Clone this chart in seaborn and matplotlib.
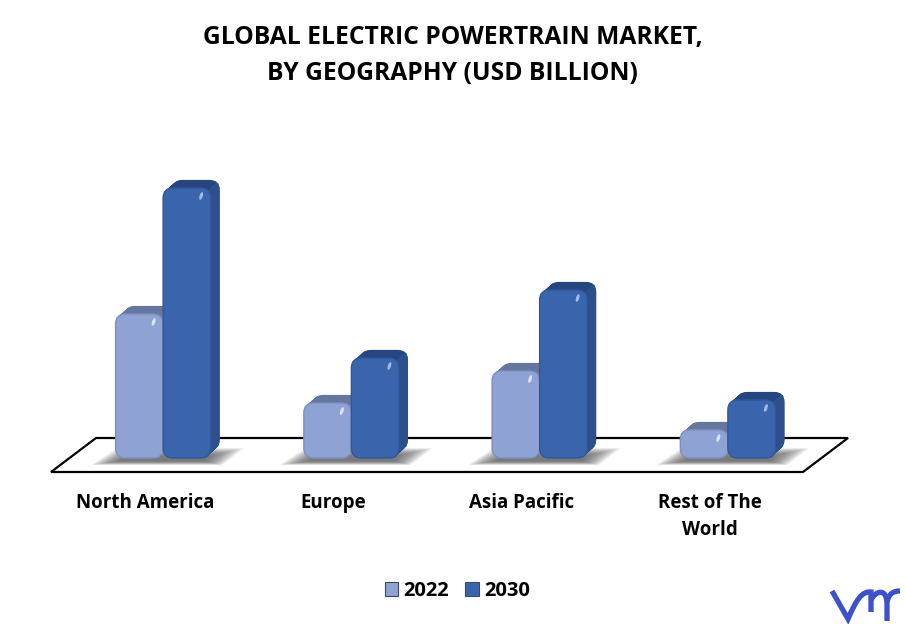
import matplotlib
matplotlib.use('Agg')
import matplotlib.pyplot as plt
import seaborn as sns
import pandas as pd
from matplotlib.patches import FancyBboxPatch, Polygon, Ellipse, PathPatch
from matplotlib.path import Path
from matplotlib.transforms import IdentityTransform, Affine2D

# Chart values (no axis in the reference, so relative scale)
regions = ['North America', 'Europe', 'Asia Pacific', 'Rest of The\nWorld']
years = ['2022', '2030']
values_2022 = [14.4, 5.5, 8.7, 2.8]
values_2030 = [27.0, 10.0, 16.8, 5.8]

W, H = 905, 624
colors = {'2022': '#8FA2D4', '2030': '#3A65AD'}
sides = {'2022': '#6F80AE', '2030': '#2D4F8C'}
tops = {'2022': '#67769F', '2030': '#26467F'}
rims = {'2022': '#7E90C0', '2030': '#31589C'}
glints = {'2022': '#E4EAF8', '2030': '#A9C4F0'}

df = pd.DataFrame({
    'region': regions * 2,
    'year': [years[0]] * 4 + [years[1]] * 4,
    'value': values_2022 + values_2030,
})

sns.set_theme(style='white')
plt.rcParams['font.family'] = ['Open Sans', 'DejaVu Sans']

fig = plt.figure(figsize=(W / 100, H / 100), dpi=100)
# axes runs from the floor front line up, categories are 188px apart
ax = fig.add_axes([69 / W, (H - 458) / H, 753 / W, 300 / H])
ax.patch.set_visible(False)

sns.barplot(data=df, x='region', y='value', hue='year', palette=colors,
            saturation=1, width=0.505, gap=0, ax=ax, zorder=10)
ax.set_xlim(-0.5, 3.5)
ax.set_ylim(0, 30)
ax.set_xlabel('')
ax.set_ylabel('')
ax.set_yticks([])
sns.despine(ax=ax, left=True, bottom=True)
ax.tick_params(axis='x', length=0, pad=25)
for lab in ax.get_xticklabels():
    lab.set_fontsize(13.5)
    lab.set_fontweight('bold')
    lab.set_color('black')
    lab.set_linespacing(1.5)
    # labels sit left of the bar pairs in the reference
    lab.set_transform(lab.get_transform() + Affine2D().translate(-18, 0))

px = IdentityTransform()


def add(patch, z, clip=None):
    patch.set_transform(px)
    patch.set_zorder(z)
    ax.add_patch(patch)
    if clip is None:
        patch.set_clip_on(False)
    else:
        clip.set_transform(px)
        patch.set_clip_on(True)
        patch.set_clip_path(clip)
    return patch


def rounded(x0, y0, w, h, r, **kw):
    return FancyBboxPatch((x0 + r, y0 + r), w - 2 * r, h - 2 * r,
                          boxstyle=f'round,pad={r},rounding_size={r}', **kw)


# floor
floor = [(51, H - 472), (96, H - 438), (848, H - 438), (803, H - 472)]
add(Polygon(floor, closed=True, fill=False, edgecolor='black', linewidth=1.6,
            joinstyle='miter'), 1)

fig.canvas.draw()
for yi, (year, cont) in enumerate(zip(years, ax.containers)):
    for ci, bar in enumerate(cont):
        (x0, y0), (x1, y1) = ax.transData.transform(
            [(bar.get_x(), 0), (bar.get_x() + bar.get_width(), bar.get_height())])
        w, h = x1 - x0, y1 - y0
        base = 10 + 10 * (ci * 2 + yi)
        r = min(10, h / 3)

        # soft shadow on the floor, many see-through layers shrinking inwards
        if yi == 1:
            left, right = x0 - 72, x1 + 34
            for k in range(24):
                s = k * 0.38
                add(Polygon([(left + s * 3.2, y0 - 7 + s * 0.45),
                             (left + 26 + s * 1.5, y0 + 10 - s * 0.9),
                             (right - s * 4, y0 + 10 - s * 0.9),
                             (right - 22 - s * 2, y0 - 7 + s * 0.45)],
                            closed=True, facecolor='#555555', edgecolor='none',
                            alpha=0.055), 2)

        # extruded body: top colour first, side colour right of the corner line
        side_clip = Polygon([(x1 - 3, y1 - 3), (x1 + 8, y1 + 7), (x1 + 40, y1 + 7),
                             (x1 + 40, y0 - 30), (x1 - 3, y0 - 30)], closed=True)
        for k in range(10):
            add(rounded(x0 + k * 1.0, y0 + k * 0.9, w, h, r,
                        facecolor=tops[year], edgecolor='none'), base)
            add(rounded(x0 + k * 1.0, y0 + k * 0.9, w, h, r,
                        facecolor=sides[year], edgecolor='none'), base + 1, clip=side_clip)

        # rounded front: the seaborn bar clipped to a rounded box
        front = rounded(x0, y0, w, h, r, facecolor='none', edgecolor=rims[year],
                        linewidth=1.0)
        add(front, base + 3)
        bar.set_zorder(base + 2)
        bar.set_edgecolor('none')
        bar.set_clip_path(front)

        # small highlight near the top right corner
        add(Ellipse((x1 - 9.5, y1 - 8), 3.2, 8, angle=-18, facecolor=glints[year],
                    edgecolor='none', alpha=0.9), base + 4)

# legend from the seaborn handles
handles, labels = ax.get_legend_handles_labels()
for hd in handles:
    hd.set_edgecolor('#3C4A66')
    hd.set_linewidth(0.8)
ax.legend(handles, labels, loc='center', bbox_to_anchor=(457.5 / W, 1 - 591 / H),
          bbox_transform=fig.transFigure, ncol=2, frameon=False,
          handlelength=0.65, handleheight=0.65, handletextpad=0.3,
          columnspacing=0.8, labelcolor='black',
          prop={'size': 14.5, 'weight': 'bold'})

fig.text(0.5, 1 - 55.5 / H, 'GLOBAL ELECTRIC POWERTRAIN MARKET,\nBY GEOGRAPHY (USD BILLION)',
         ha='center', va='center', fontsize=17.7, fontweight='bold', color='black',
         linespacing=1.55)

# logo mark, bottom right
logo = '#3F51C8'
strokes = [
    ([(832, 591), (848, 619), (856, 600), (862, 591), (871, 592), (871, 612)],
     [Path.MOVETO, Path.LINETO, Path.CURVE4, Path.CURVE4, Path.CURVE4, Path.LINETO]),
    ([(871, 600), (876, 590), (887, 588), (887, 604), (887, 621)],
     [Path.MOVETO, Path.CURVE4, Path.CURVE4, Path.CURVE4, Path.LINETO]),
    ([(887, 602), (889, 593), (894, 591), (900, 591)],
     [Path.MOVETO, Path.CURVE4, Path.CURVE4, Path.CURVE4]),
]
for verts, codes in strokes:
    ax.add_patch(PathPatch(Path([(x, H - y) for x, y in verts], codes), fill=False,
                           edgecolor=logo, linewidth=3.8, transform=px, clip_on=False))

fig.savefig('out.png', dpi=100)
